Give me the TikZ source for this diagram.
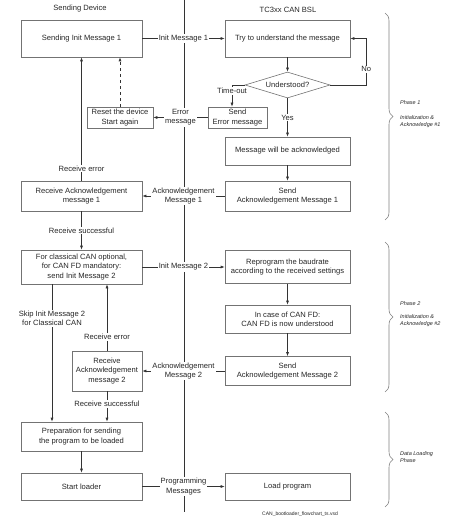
\documentclass[tikz,border=0pt]{standalone}
\usepackage{fontspec}
\setmainfont{Liberation Sans}
\usetikzlibrary{arrows.meta,shapes.geometric,decorations.pathreplacing}
\begin{document}
\begin{tikzpicture}[x=1pt,y=-1pt,
 font=\fontsize{7.6}{9.2}\selectfont,
 box/.style={draw=black!55, line width=0.6pt, rectangle, align=center, inner sep=1pt, text=black!85},
 lbox/.style={box, minimum width=121pt},
 rbox/.style={box, minimum width=125pt},
 conn/.style={draw=black!80, line width=0.6pt, -{Latex[length=4pt,width=3pt]}},
 lab/.style={fill=white, inner sep=1pt, align=center, text=black!85},
 brc/.style={draw=black!50, line width=0.6pt, decorate, decoration={brace, amplitude=8pt}},
 phase/.style={font=\fontsize{5.5}{7}\selectfont\itshape, anchor=west, align=left, text=black!85, inner sep=0pt},
]
\useasboundingbox (0,0) rectangle (474,526);

% divider
\coordinate (ltop) at (184,0);
\coordinate (lbot) at (184,512);
\draw[black!80, line width=0.6pt] (ltop) -- (lbot);

% headers
\node[text=black!85] (hsend) at (80,9) {Sending Device};
\node[text=black!85] (hbsl) at (288,10) {TC3xx CAN BSL};

% left boxes
\node[lbox, minimum height=37pt] (init1) at (81.5,38.5) {Sending Init Message 1};
\node[box, minimum width=66pt, minimum height=21pt] (reset) at (120,117.5) {Reset the device\\Start again};
\node[lbox, minimum height=30pt] (rack1) at (81.5,196) {Receive Acknowledgement\\message 1};
\node[lbox, minimum height=34pt] (cls) at (81.5,267) {For classical CAN optional,\\for CAN FD mandatory:\\send Init Message 2};
\node[box, minimum width=70pt, minimum height=40pt] (rack2) at (107,371) {Receive\\Acknowledgement\\message 2};
\node[lbox, minimum height=29pt] (prep) at (81.5,436.5) {Preparation for sending\\the program to be loaded};
\node[lbox, minimum height=27pt] (start) at (81.5,486.5) {Start loader};

% right boxes
\node[rbox, minimum height=37pt] (try) at (287.5,38.5) {Try to understand the message};
\node[draw=black!55, line width=0.6pt, diamond, aspect=3.3, inner sep=0pt, minimum width=85pt, minimum height=26pt, text=black!85] (dec) at (287.5,85) {Understood?};
\node[box, minimum width=59pt, minimum height=21pt] (senderr) at (237.5,117.5) {Send\\Error message};
\node[rbox, minimum height=28pt] (msgack) at (287.5,151) {Message will be acknowledged};
\node[rbox, minimum height=30pt] (sack1) at (287.5,196) {Send\\Acknowledgement Message 1};
\node[rbox, minimum height=33pt] (repro) at (287.5,267) {Reprogram the baudrate\\according to the received settings};
\node[rbox, minimum height=28pt] (incase) at (287.5,319) {In case of CAN FD:\\CAN FD is now understood};
\node[rbox, minimum height=29pt] (sack2) at (287.5,371) {Send\\Acknowledgement Message 2};
\node[rbox, minimum height=27pt] (load) at (287.5,486.5) {Load program};

% connectors
\draw[conn] (init1.east) -- node[lab]{Init Message 1} (try.west);
\draw[conn] (try.south) -- (dec.north);
\draw[conn] (dec.east) -- ++(36,0) |- node[lab,pos=0.17]{No} (try.east);
\draw[conn] (dec.west) -| node[lab,pos=0.64]{Time-out} ([xshift=-5.5pt]senderr.north);
\draw[conn] (senderr.west) -- node[lab]{Error\\message} (reset.east);
\draw[conn, dashed] (reset.north) -- (reset.north |- init1.south);
\draw[conn] (rack1.north) -- node[lab,pos=0.1]{Receive error} (init1.south);
\draw[conn] (dec.south) -- node[lab]{Yes} (msgack.north);
\draw[conn] (msgack) -- (sack1);
\draw[conn] (sack1.west) -- node[lab]{Acknowledgement\\Message 1} (rack1.east);
\draw[conn] (rack1.south) -- node[lab]{Receive successful} (cls.north);
\draw[conn] (cls.east) -- node[lab]{Init Message 2} (repro.west);
\draw[conn] (repro) -- (incase);
\draw[conn] (incase) -- (sack2);
\draw[conn] (sack2.west) -- node[lab]{Acknowledgement\\Message 2} (rack2.east);
\draw[conn] (rack2.north) -- node[lab,pos=0.21]{Receive error} (rack2.north |- cls.south);
\draw[conn] ([xshift=-29.5pt]cls.south) -- node[lab,pos=0.25]{Skip Init Message 2\\for Classical CAN} ([xshift=-29.5pt]prep.north);
\draw[conn] (rack2.south) -- node[lab,pos=0.42]{Receive successful} (rack2.south |- prep.north);
\draw[conn] (prep) -- (start);
\draw[conn] (start.east) -- node[lab]{Programming\\Messages} (load.west);

% braces
\coordinate (b1t) at (385,13);
\coordinate (b1b) at (385,220);
\coordinate (b2t) at (385,242);
\coordinate (b2b) at (385,392);
\coordinate (b3t) at (385,412);
\coordinate (b3b) at (385,507);
\draw[brc] (b1t) -- (b1b);
\draw[brc] (b2t) -- (b2b);
\draw[brc] (b3t) -- (b3b);
\node[phase] (p1a) at (400,103) {Phase 1};
\node[phase] (p1b) at (400,121.5) {Initialization \&\\Acknowledge \#1};
\node[phase] (p2a) at (400,304) {Phase 2};
\node[phase] (p2b) at (400,321) {Initialization \&\\Acknowledge \#2};
\node[phase] (p3) at (400,457) {Data Loading\\Phase};

% footer
\node[font=\fontsize{5}{6}\selectfont, text=black!85] (foot) at (300,514) {CAN\_bootloader\_flowchart\_ts.vsd};
\end{tikzpicture}
\end{document}
